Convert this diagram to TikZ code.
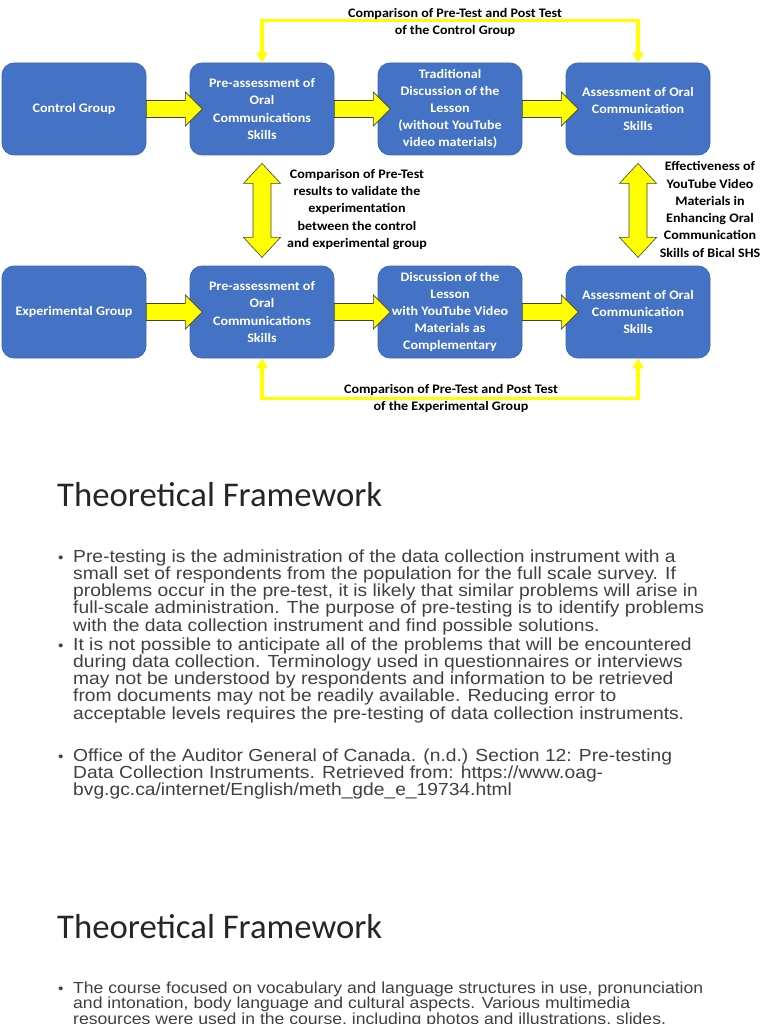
\documentclass[tikz,border=0pt]{standalone}
\usepackage{fontspec}
\setmainfont{Carlito}
\newfontfamily\bodyf[FakeStretch=1.1]{Liberation Sans}
\newfontfamily\diagf[FakeStretch=1.08]{Carlito}
\newfontfamily\titlef{Carlito}
\usetikzlibrary{calc,arrows.meta}
\definecolor{boxblue}{HTML}{4472C4}
\definecolor{boxedge}{HTML}{3F69B8}
\definecolor{ylw}{HTML}{FFFF00}
\definecolor{txtgray}{HTML}{404040}
\definecolor{ttl}{HTML}{262626}
\newcommand\rblock[1]{\draw[barrow] ($(#1.east)+(0,-8.5)$) -- ++(39,0) -- ++(0,-8.5) -- ++(17,17) -- ++(-17,17) -- ++(0,-8.5) -- ++(-39,0) -- cycle;}
\newcommand\vblock[1]{\draw[barrow] ($(#1.south)+(0,8)$) -- ++(18.5,20) -- ++(-9.5,0) -- ++(0,54) -- ++(9.5,0) -- ++(-18.5,20) -- ++(-18.5,-20) -- ++(9.5,0) -- ++(0,-54) -- ++(-9.5,0) -- cycle;}
\begin{document}
\begin{tikzpicture}[x=1pt,y=-1pt,
  box/.style={draw=boxedge, line width=0.8pt, fill=boxblue, rounded corners=12pt,
    minimum width=144pt, minimum height=92pt, text=white,
    font=\diagf\fontsize{13}{17.2}\selectfont\bfseries, align=center, inner sep=0pt},
  barrow/.style={fill=ylw, draw=black!75, line width=0.6pt, line join=miter},
  conn/.style={draw=ylw, line width=3.5pt, {Triangle[width=11pt,length=10pt]}-{Triangle[width=11pt,length=10pt]}},
  lbl/.style={font=\diagf\fontsize{13}{17.3}\selectfont\bfseries, align=center, text=black, inner sep=0pt},
  body/.style={font=\bodyf\fontsize{17.5}{15.8}\selectfont, text=txtgray, anchor=base west, inner sep=0pt},
  bodysmall/.style={font=\bodyf\fontsize{16}{14.5}\selectfont, text=txtgray, anchor=base west, inner sep=0pt},
  bul/.style={font=\bodyf\fontsize{14}{14}\selectfont, text=txtgray, anchor=base west, inner sep=0pt},
  ttlstyle/.style={font=\titlef\fontsize{34.7}{40}\selectfont, text=ttl, anchor=base west, inner sep=0pt}
]
\useasboundingbox (0,0) rectangle (768,1024);
\fill[white] (0,0) rectangle (768,1024);
\clip (0,0) rectangle (768,1024);

% row 1
\node[box] (c1) at (74,109) {Control Group};
\node[box] (p1) at (262,109) {Pre-assessment of\\Oral\\Communications\\Skills};
\node[box] (t1) at (450,109) {Traditional\\Discussion of the\\Lesson\\(without YouTube\\video materials)};
\node[box] (a1) at (638,109) {Assessment of Oral\\Communication\\Skills};
% row 2
\node[box] (c2) at (74,312) {Experimental Group};
\node[box] (p2) at (262,312) {Pre-assessment of\\Oral\\Communications\\Skills};
\node[box] (t2) at (450,312) {Discussion of the\\Lesson\\with YouTube Video\\Materials as\\Complementary};
\node[box] (a2) at (638,312) {Assessment of Oral\\Communication\\Skills};

% horizontal block arrows
\rblock{c1}\rblock{p1}\rblock{t1}
\rblock{c2}\rblock{p2}\rblock{t2}
% vertical double block arrows
\vblock{p1}\vblock{a1}

% thin connectors
\draw[conn] (p1.north) -- ++(0,-42) -| (a1.north);
\draw[conn] (p2.south) -- ++(0,40) -| (a2.south);

% labels
\node[lbl] (ltop) at (455,22.5) {Comparison of Pre-Test and Post Test\\of the Control Group};
\node[lbl] (lbot) at (451,398.5) {Comparison of Pre-Test and Post Test\\of the Experimental Group};
\node[lbl] (lmid) at (357,209.5) {Comparison of Pre-Test\\results to validate the\\experimentation\\between the control\\and experimental group};
\node[lbl] (lright) at (710,209.5) {Effectiveness of\\YouTube Video\\Materials in\\Enhancing Oral\\Communication\\Skills of Bical SHS};

% text section 1
\node[ttlstyle] (title1) at (57,506) {Theoretical Framework};
\node[bul] (b1) at (58,562) {•};
\node[body] (para1) at (73,562) {\vtop{\hbox{Pre-testing is the administration of the data collection instrument with a}\hbox{small set of respondents from the population for the full scale survey. If}\hbox{problems occur in the pre-test, it is likely that similar problems will arise in}\hbox{full-scale administration. The purpose of pre-testing is to identify problems}\hbox{with the data collection instrument and find possible solutions.}}};
\node[bul] (b2) at (58,650) {•};
\node[body] (para2) at (73,650) {\vtop{\hbox{It is not possible to anticipate all of the problems that will be encountered}\hbox{during data collection. Terminology used in questionnaires or interviews}\hbox{may not be understood by respondents and information to be retrieved}\hbox{from documents may not be readily available. Reducing error to}\hbox{acceptable levels requires the pre-testing of data collection instruments.}}};
\node[bul] (b3) at (58,761) {•};
\node[body] (para3) at (73,761) {\vtop{\hbox{Office of the Auditor General of Canada. (n.d.) Section 12: Pre-testing}\hbox{Data Collection Instruments. Retrieved from: https://www.oag-}\hbox{bvg.gc.ca/internet/English/meth\_gde\_e\_19734.html}}};

% text section 2
\node[ttlstyle] (title2) at (57,938) {Theoretical Framework};
\node[bul] (b4) at (58,993) {•};
\node[bodysmall] (para4) at (73,993) {\vtop{\hbox{The course focused on vocabulary and language structures in use, pronunciation}\hbox{and intonation, body language and cultural aspects. Various multimedia}\hbox{resources were used in the course, including photos and illustrations, slides,}}};
\end{tikzpicture}
\end{document}
